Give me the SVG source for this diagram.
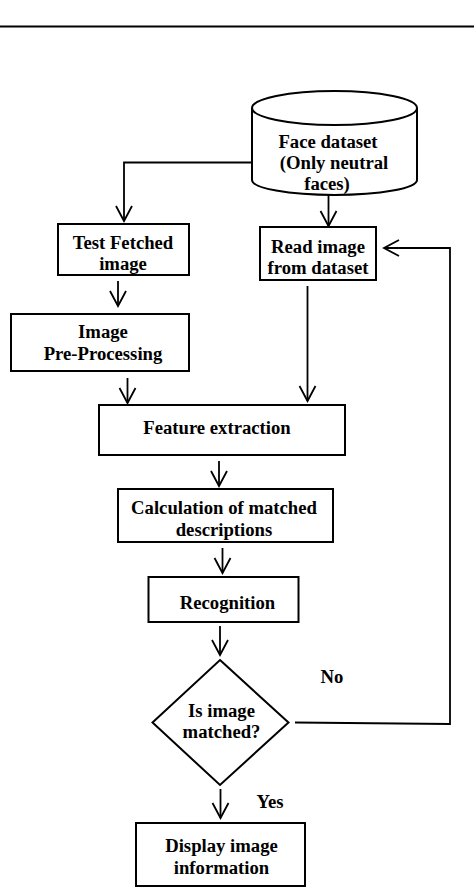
<svg xmlns="http://www.w3.org/2000/svg" width="474" height="888" viewBox="0 0 474 888">
<defs>
<marker id="arr" viewBox="-16 -9 18 18" refX="0" refY="0" markerWidth="18" markerHeight="18" markerUnits="userSpaceOnUse" orient="auto" overflow="visible">
<path d="M-15,-8 L0,0 L-15,8" fill="none" stroke="#000" stroke-width="1.8"/>
</marker>
<style>
.box{fill:#fff;stroke:#000;stroke-width:2}
.t{font-family:"Liberation Serif","Times New Roman",serif;font-weight:bold;font-size:18.7px;fill:#000;text-anchor:middle}
.c{fill:none;stroke:#000;stroke-width:1.8}
</style>
</defs>
<rect width="474" height="888" fill="#fff"/>
<line x1="0" y1="26.5" x2="474" y2="26.5" stroke="#000" stroke-width="2.2"/>
<g id="connectors">
<polyline class="c" points="252,162.5 124,162.5 124,221" marker-end="url(#arr)"/>
<line class="c" x1="328.5" y1="195" x2="328.5" y2="226" marker-end="url(#arr)"/>
<line class="c" x1="118" y1="281" x2="118" y2="306" marker-end="url(#arr)"/>
<line class="c" x1="307.5" y1="286" x2="307.5" y2="401" marker-end="url(#arr)"/>
<line class="c" x1="127.5" y1="378" x2="127.5" y2="403" marker-end="url(#arr)"/>
<line class="c" x1="219" y1="461" x2="219" y2="486" marker-end="url(#arr)"/>
<line class="c" x1="222.5" y1="548" x2="222.5" y2="573" marker-end="url(#arr)"/>
<line class="c" x1="220" y1="626" x2="220" y2="655" marker-end="url(#arr)"/>
<polyline class="c" points="295,722.5 450,724 450,248 384,248" marker-end="url(#arr)"/>
<line class="c" x1="220.5" y1="789" x2="220.5" y2="818" marker-end="url(#arr)"/>
<text class="t" x="332" y="683">No</text>
<text class="t" x="270" y="808">Yes</text>
</g>
<g id="face-dataset">
<path class="box" d="M252,108 L252,180 A82.5,15 0 0 0 417,180 L417,108"/>
<ellipse class="box" cx="334.5" cy="108" rx="82.5" ry="17"/>
<text class="t" x="328" y="148">Face dataset</text>
<text class="t" x="334" y="169">(Only neutral</text>
<text class="t" x="327" y="190">faces)</text>
</g>
<g id="test-fetched">
<rect class="box" x="58" y="224" width="131" height="51"/>
<text class="t" x="123" y="249">Test Fetched</text>
<text class="t" x="123" y="270">image</text>
</g>
<g id="read-image">
<rect class="box" x="260" y="227" width="116" height="53"/>
<text class="t" x="318" y="253">Read image</text>
<text class="t" x="318" y="274">from dataset</text>
</g>
<g id="pre-processing">
<rect class="box" x="11" y="314" width="178" height="57"/>
<text class="t" x="103" y="338">Image</text>
<text class="t" x="103" y="360">Pre-Processing</text>
</g>
<g id="feature-extraction">
<rect class="box" x="99" y="405" width="246" height="50"/>
<text class="t" x="217" y="434">Feature extraction</text>
</g>
<g id="calculation">
<rect class="box" x="118" y="489" width="215" height="53"/>
<text class="t" x="224" y="514">Calculation of matched</text>
<text class="t" x="224" y="536">descriptions</text>
</g>
<g id="recognition">
<rect class="box" x="148.5" y="577" width="150" height="45"/>
<text class="t" x="227.5" y="609">Recognition</text>
</g>
<g id="decision">
<polygon class="box" points="220,660 288.5,722.5 220,785 152.5,722.5"/>
<text class="t" x="221.5" y="717">Is image</text>
<text class="t" x="221.5" y="738">matched?</text>
</g>
<g id="display">
<rect class="box" x="136" y="823" width="169" height="63"/>
<text class="t" x="221.5" y="852">Display image</text>
<text class="t" x="221.5" y="874">information</text>
</g>
</svg>
